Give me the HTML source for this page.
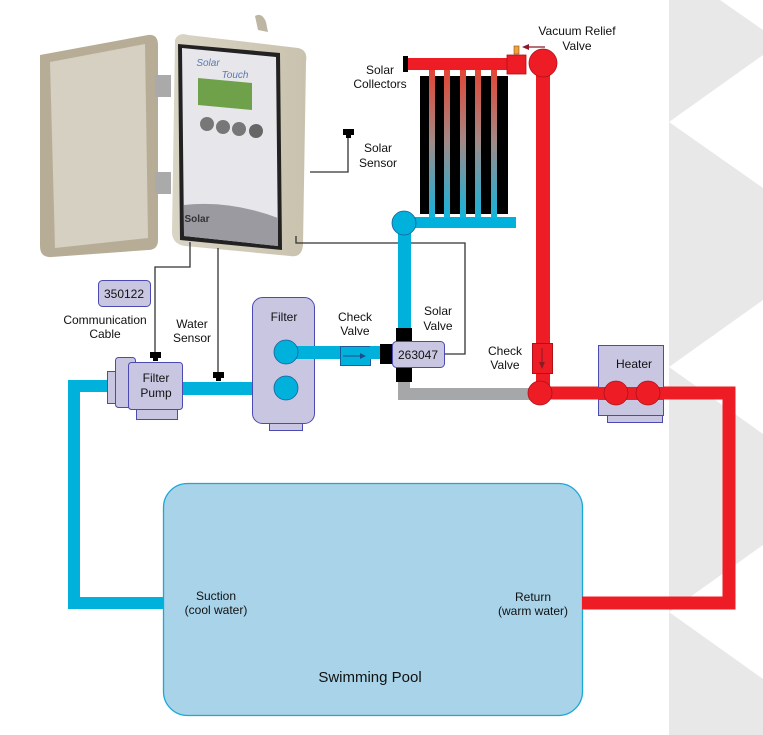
<!DOCTYPE html>
<html><head><meta charset="utf-8"><style>
html,body{margin:0;padding:0;background:#fff;}
svg{display:block;}
text{font-family:"Liberation Sans",sans-serif;font-size:12px;fill:#111;text-anchor:middle;}
</style></head><body>
<svg width="763" height="735" viewBox="0 0 763 735" xmlns="http://www.w3.org/2000/svg">
<defs>
<linearGradient id="tube" x1="0" y1="0" x2="0" y2="1">
<stop offset="0" stop-color="#e8412f"/><stop offset="0.5" stop-color="#a08a88"/><stop offset="1" stop-color="#12b4dc"/>
</linearGradient>
<linearGradient id="body" x1="0" y1="0" x2="1" y2="0">
<stop offset="0" stop-color="#d9d4c4"/><stop offset="1" stop-color="#c9c2ae"/>
</linearGradient>
</defs>
<!-- right decorative band -->
<rect x="669" y="0" width="94" height="735" fill="#e8e8e8"/>
<polygon points="720,0 763,0 763,30" fill="#fff"/>
<polygon points="669,122 763,55 763,188" fill="#fff"/>
<polygon points="669,367 763,300 763,434" fill="#fff"/>
<polygon points="669,612 763,545 763,679" fill="#fff"/>
<polygon points="763,188 700,245 763,300" fill="#e8e8e8"/>

<!-- controller lid -->
<path d="M40,55 L148,35 Q158,34 158,45 L158,240 Q158,250 148,250 L52,257 Q40,258 40,246 Z" fill="#b7ad97"/>
<path d="M50,62 L145,44 L148,238 L55,248 Z" fill="#d6d0c2"/>
<rect x="155" y="75" width="16" height="22" fill="#aaa"/>
<rect x="155" y="172" width="16" height="22" fill="#aaa"/>
<!-- controller body -->
<path d="M255,16 Q262,12 266,22 L268,32 L258,30 Z" fill="#bdb6a2"/>
<path d="M175,40 Q178,32 188,35 L298,48 Q308,50 306,62 L303,245 Q302,258 290,256 L185,246 Q172,244 172,232 Z" fill="url(#body)"/>
<path d="M178,44 L280,53 L282,250 L180,240 Z" fill="#222"/>
<path d="M182,48 L276,57 L278,246 L184,236 Z" fill="#e7e6ea"/>
<text x="208" y="66" style="font-size:10px;fill:#5a7bb0;font-style:italic">Solar</text>
<text x="235" y="78" style="font-size:10px;fill:#5a7bb0;font-style:italic">Touch</text>
<path d="M198,78 L252,83 L252,110 L198,105 Z" fill="#6fa04a"/>
<circle cx="207" cy="124" r="7" fill="#777"/><circle cx="223" cy="127" r="7" fill="#777"/><circle cx="239" cy="129" r="7" fill="#777"/><circle cx="256" cy="131" r="7" fill="#666"/>
<path d="M184,205 Q230,200 278,218 L278,246 L184,236 Z" fill="#9a9aa0"/>
<text x="197" y="222" style="font-size:10px;fill:#333;font-weight:bold">Solar</text>

<!-- control wires -->
<g fill="none" stroke="#333" stroke-width="1.3">
<path d="M190,242 V267 H155 V355"/>
<path d="M218,248 V375"/>
<path d="M296,236 V243 H465 V354 H445"/>
<path d="M310,172 H348 V134"/>
</g>
<rect x="150" y="352" width="11" height="6" fill="#000"/><rect x="153" y="357" width="5" height="4" fill="#000"/>
<rect x="213" y="372" width="11" height="6" fill="#000"/><rect x="216" y="377" width="5" height="4" fill="#000"/>
<rect x="343" y="129" width="11" height="6" fill="#000"/><rect x="346" y="134" width="5" height="4" fill="#000"/>

<!-- pool -->
<rect x="163.5" y="483.5" width="419" height="232" rx="24" fill="#a8d3e9" stroke="#1aa8d8" stroke-width="1.3"/>
<text x="216" y="600">Suction</text><text x="216" y="614">(cool water)</text>
<text x="533" y="601">Return</text><text x="533" y="615">(warm water)</text>
<text x="370" y="682" style="font-size:15px">Swimming Pool</text>

<!-- blue suction pipe -->
<path d="M163,603 H74 V386 H112" fill="none" stroke="#00b1dc" stroke-width="12"/>
<rect x="180" y="382" width="100" height="13" fill="#00b1dc"/>
<!-- red return pipe -->
<path d="M582,603 H729 V393 H540" fill="none" stroke="#ee1c25" stroke-width="13"/>

<!-- filter pump -->
<g fill="#c9c6e2" stroke="#4a4ab0" stroke-width="1">
<rect x="107.5" y="371.5" width="10" height="32"/>
<rect x="115.5" y="357.5" width="20" height="50" rx="3"/>
<rect x="136.5" y="404.5" width="41" height="15"/>
<rect x="128.5" y="362.5" width="54" height="47" rx="3"/>
</g>
<text x="156" y="382">Filter</text><text x="156" y="397">Pump</text>

<!-- filter -->
<g fill="#c9c6e2" stroke="#4a4ab0" stroke-width="1">
<rect x="269.5" y="420.5" width="33" height="10"/>
<rect x="252.5" y="297.5" width="62" height="126" rx="10"/>
</g>
<text x="284" y="321">Filter</text>
<rect x="285" y="346" width="60" height="13" fill="#00b1dc"/>
<circle cx="286" cy="352" r="12" fill="#00b1dc" stroke="#1a5d9a" stroke-width="0.8"/>
<circle cx="286" cy="388" r="12" fill="#00b1dc" stroke="#1a5d9a" stroke-width="0.8"/>
<!-- check valve -->
<rect x="340.5" y="346.5" width="30" height="19" fill="#00b1dc" stroke="#1a5d9a" stroke-width="1"/>
<line x1="343" y1="356" x2="365" y2="356" stroke="#1a4d8a" stroke-width="1"/>
<polygon points="366,356 360,353 360,359" fill="#1a4d8a"/>
<rect x="370" y="346" width="12" height="13" fill="#00b1dc"/>
<text x="355" y="321">Check</text><text x="355" y="335">Valve</text>

<!-- grey pipe -->
<path d="M404,375 V394 H540" fill="none" stroke="#a6a7a9" stroke-width="12"/>
<!-- blue up to collectors -->
<rect x="398" y="222" width="13" height="110" fill="#00b1dc"/>
<rect x="404" y="217" width="112" height="11" fill="#00b1dc"/>
<circle cx="404" cy="223" r="12" fill="#00b1dc" stroke="#1a5d9a" stroke-width="0.8"/>
<!-- solar valve -->
<rect x="396" y="328" width="16" height="54" fill="#000"/>
<rect x="380" y="344" width="30" height="20" fill="#000"/>
<rect x="392.5" y="341.5" width="52" height="26" rx="4" fill="#c9c6e2" stroke="#4a4ab0" stroke-width="1"/>
<text x="418" y="359">263047</text>
<text x="438" y="315">Solar</text><text x="438" y="330">Valve</text>

<!-- collectors -->
<rect x="420" y="76" width="88" height="138" fill="#000"/>
<g fill="url(#tube)">
<rect x="429" y="66" width="6" height="152"/><rect x="444" y="66" width="6" height="152"/><rect x="460" y="66" width="6" height="152"/><rect x="475" y="66" width="6" height="152"/><rect x="491" y="66" width="6" height="152"/>
</g>
<rect x="406" y="58" width="110" height="12" fill="#ee1c25"/>
<rect x="403" y="56" width="5" height="16" fill="#000"/>
<rect x="507" y="55" width="19" height="19" fill="#ee1c25" stroke="#b01018" stroke-width="0.8"/>
<rect x="514" y="46" width="5" height="8" fill="#f2a23a" stroke="#8a5010" stroke-width="0.6"/>
<line x1="525" y1="47" x2="545" y2="47" stroke="#8a1a28" stroke-width="1.2"/>
<polygon points="522,47 529,44 529,50" fill="#8a1a28"/>
<text x="380" y="74">Solar</text><text x="380" y="88">Collectors</text>
<text x="378" y="152">Solar</text><text x="378" y="167">Sensor</text>
<text x="577" y="35">Vacuum Relief</text><text x="577" y="50">Valve</text>
<!-- red down pipe -->
<rect x="536" y="63" width="14" height="330" fill="#ee1c25"/>
<circle cx="543" cy="63" r="14" fill="#ee1c25" stroke="#b01018" stroke-width="0.8"/>
<rect x="532.5" y="343.5" width="20" height="30" fill="#ee1c25" stroke="#b01018" stroke-width="1"/>
<line x1="542" y1="348" x2="542" y2="366" stroke="#8a1a28" stroke-width="1"/>
<polygon points="542,369 539,362 545,362" fill="#8a1a28"/>
<text x="505" y="355">Check</text><text x="505" y="369">Valve</text>
<circle cx="540" cy="393" r="12" fill="#ee1c25" stroke="#b01018" stroke-width="0.8"/>

<!-- heater -->
<g fill="#c9c6e2" stroke="#4a4ab0" stroke-width="1">
<rect x="607.5" y="412.5" width="55" height="10"/>
<rect x="598.5" y="345.5" width="65" height="70"/>
</g>
<rect x="598" y="387" width="66" height="13" fill="#ee1c25"/>
<text x="634" y="368">Heater</text>
<circle cx="616" cy="393" r="12" fill="#ee1c25" stroke="#b01018" stroke-width="0.8"/>
<circle cx="648" cy="393" r="12" fill="#ee1c25" stroke="#b01018" stroke-width="0.8"/>

<!-- 350122 -->
<rect x="98.5" y="280.5" width="52" height="26" rx="4" fill="#c9c6e2" stroke="#4a4ab0" stroke-width="1"/>
<text x="124" y="298">350122</text>
<text x="105" y="324">Communication</text><text x="105" y="338">Cable</text>
<text x="192" y="328">Water</text><text x="192" y="342">Sensor</text>
</svg>
</body></html>
